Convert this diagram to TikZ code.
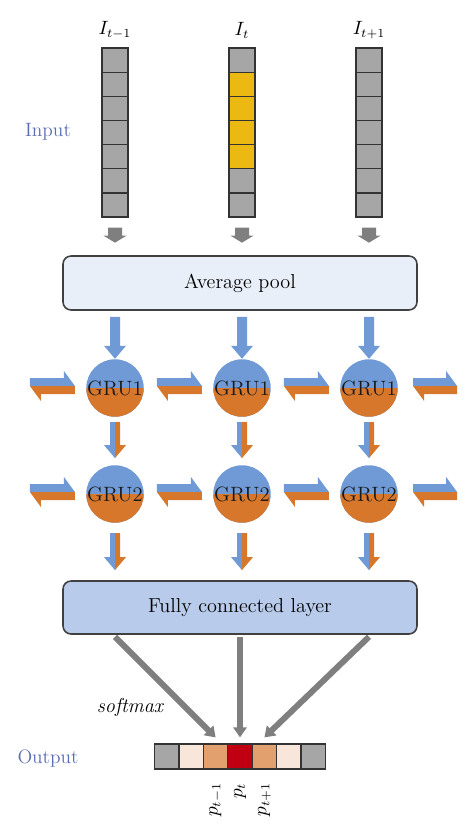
\documentclass[tikz,border=0pt]{standalone}
\usepackage{tikz}
\usetikzlibrary{positioning,calc,arrows.meta}

\definecolor{inblue}{HTML}{5A6DB3}
\definecolor{cellgray}{HTML}{A6A6A6}
\definecolor{cellgold}{HTML}{ECB812}
\definecolor{grublue}{HTML}{6F9AD6}
\definecolor{gruorange}{HTML}{D7772C}
\definecolor{poolfill}{HTML}{E9EFF9}
\definecolor{fcfill}{HTML}{B9CBEA}
\definecolor{arrowgray}{HTML}{7F7F7F}
\definecolor{outlight}{HTML}{F8E6DA}
\definecolor{outmid}{HTML}{E2A06E}
\definecolor{outred}{HTML}{C00012}

\tikzset{
  cell/.style={draw=black!80,
    line width=0.7pt,
    fill=cellgray,
    minimum width=0.52cm,
    minimum height=0.483cm,
    inner sep=0pt},
  outcell/.style={cell,
    minimum width=0.488cm,
    minimum height=0.5cm},
  layerbox/.style={draw=black!75,
    line width=0.9pt,
    rounded corners=0.16cm,
    minimum width=7.08cm,
    minimum height=1.08cm,
    font=\fontsize{11.5}{14}\selectfont},
  gru/.style={circle,
    minimum size=1.14cm,
    inner sep=0pt,
    fill=grublue,
    text=black!90,
    path picture={\fill[gruorange] (path picture bounding box.south west) rectangle (path picture bounding box.east);},
    font=\fontsize{11.8}{14}\selectfont},
  sidelabel/.style={text=inblue,
    font=\fontsize{11}{13}\selectfont},
  outarrow/.style={draw=arrowgray,
    line width=3.4pt,
    -{Triangle[length=5.7pt,width=7.5pt]}}
}

% block arrow pointing down: top point, length, colour
\newcommand{\fulldown}[3]{%
  \fill[#3] (#1) ++(-5,0) -- ++(10,0) -- ++(0,#2-13) -- ++(6,0) -- ++(-11,13) -- ++(-11,-13) -- ++(6,0) -- cycle;}
% block arrow pointing down, blue on the left, orange on the right
\newcommand{\splitdown}[2]{%
  \fill[grublue] (#1) -- ++(0,#2) -- ++(-11,-13) -- ++(6,0) -- ++(0,13-#2) -- cycle;
  \fill[gruorange] (#1) -- ++(0,#2) -- ++(11,-13) -- ++(-6,0) -- ++(0,13-#2) -- cycle;}
% pair of half arrows: blue to the right, orange to the left
\newcommand{\twoway}[2]{%
  \fill[grublue] (#1) -- ++(0,-8) -- ++(#2-11,0) -- ++(0,-7) -- ++(11,15) -- cycle;
  \fill[gruorange] (#1) ++(#2,0) -- ++(0,8) -- ++(11-#2,0) -- ++(0,7) -- ++(-11,-15) -- cycle;}

\begin{document}
\begin{tikzpicture}[x=0.02cm,y=-0.02cm]

\useasboundingbox (0,0) rectangle (474,832);

% Input frames
\foreach \r/\f in {1/cellgray,2/cellgold,3/cellgold,4/cellgold,5/cellgold,6/cellgray,7/cellgray}{
  \node[cell] (in1-\r) at (115,{48+24.15*(\r-0.5)}) {};
  \node[cell, fill=\f] (in2-\r) at (242,{48+24.15*(\r-0.5)}) {};
  \node[cell] (in3-\r) at (369,{48+24.15*(\r-0.5)}) {};
}

\node[font=\fontsize{10.5}{12}\selectfont] (lab1) at (115,30) {$I_{t-1}$};
\node[font=\fontsize{10.5}{12}\selectfont] (lab2) at (242,30) {$I_{t}$};
\node[font=\fontsize{10.5}{12}\selectfont] (lab3) at (369,30) {$I_{t+1}$};

\node[sidelabel] (inputlab) at (48,132) {Input};

% Layers
\node[layerbox, fill=poolfill] (pool) at (240,283) {Average pool};

\node[layerbox,
    fill=fcfill,
    minimum height=1.06cm] (fc) at (240,607.5) {Fully connected layer};

% GRU cells
\foreach \c/\x in {1/115,2/242,3/369}{
  \node[gru] (grua\c) at (\x,388) {GRU1};
  \node[gru] (grub\c) at (\x,494) {GRU2};
}

% Block arrows
\foreach \c in {1,2,3}{
  \fill[arrowgray] ($(in\c-7.south)+(0,10)$) ++(-7,0) -- ++(14,0) -- ++(0,8) -- ++(4.5,0) -- ++(-11.5,7) -- ++(-11.5,-7) -- ++(4.5,0) -- cycle;
  \fulldown{$(pool.south -| grua\c)+(0,6)$}{42}{grublue}
  \splitdown{$(grua\c.south)+(0,5)$}{36}
  \splitdown{$(grub\c.south)+(0,10)$}{37}
  \twoway{$(grua\c.west)+(-56,-2)$}{45}
  \twoway{$(grub\c.west)+(-56,-2)$}{45}
}
\twoway{$(grua3.east)+(15,-2)$}{44}
\twoway{$(grub3.east)+(15,-2)$}{44}

% Output
\foreach \i/\f in {1/cellgray,2/outlight,3/outmid,4/outred,5/outmid,6/outlight,7/cellgray}
  \node[outcell, fill=\f] (out\i) at ({240+24.4*(\i-4)},756.5) {};

\node[sidelabel] (outputlab) at (48,759) {Output};

\node[font=\itshape\fontsize{11.5}{13}\selectfont] (softlab) at (130,707) {softmax};

\draw[outarrow] ($(fc.south -| grub1)+(0,2)$) -- ($(out3.north)+(0,-6)$);
\draw[outarrow] ($(fc.south -| out4)+(0,2)$) -- ($(out4.north)+(0,-6)$);
\draw[outarrow] ($(fc.south -| grub3)+(0,2)$) -- ($(out5.north)+(0,-6)$);

\node[rotate=90, anchor=east, inner sep=0pt, font=\fontsize{10.5}{12}\selectfont] (plab1) at ($(out3.south)+(0,13)$) {$p_{t-1}$};
\node[rotate=90, anchor=east, inner sep=0pt, font=\fontsize{10.5}{12}\selectfont] (plab2) at ($(out4.south)+(0,13)$) {$p_{t}$};
\node[rotate=90, anchor=east, inner sep=0pt, font=\fontsize{10.5}{12}\selectfont] (plab3) at ($(out5.south)+(0,13)$) {$p_{t+1}$};

\end{tikzpicture}
\end{document}
